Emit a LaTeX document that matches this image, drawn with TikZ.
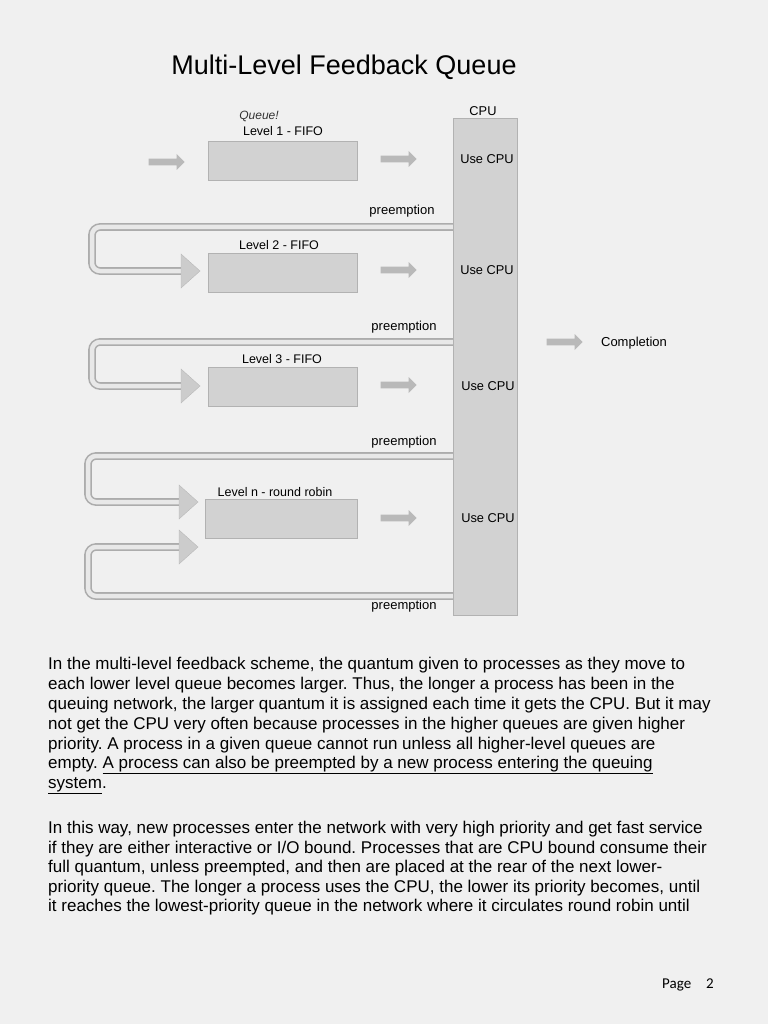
\documentclass[tikz,border=0pt]{standalone}
\usepackage{fontspec}
\setmainfont{Liberation Sans}
\newfontfamily\pagefont{Carlito}
\usetikzlibrary{shapes.arrows}
\begin{document}
\frenchspacing
\begin{tikzpicture}[x=1pt,y=-1pt,
  qbox/.style={draw=gray!60,fill=gray!35,minimum width=149pt,minimum height=39pt,inner sep=0pt},
  lab/.style={font=\fontsize{12.5}{14}\selectfont},
  ulab/.style={font=\fontsize{12.8}{14}\selectfont},
  small/.style={draw=none,fill=gray!55,single arrow,minimum height=36pt,minimum width=16pt,single arrow head extend=3pt,inner sep=2pt},
  pipe/.style={draw=gray!65,double=gray!18,double distance=4.5pt,line width=1.6pt,rounded corners=8pt},
  head/.style={fill=gray!40,draw=gray!55},
  body/.style={anchor=west,font=\fontsize{17}{20}\selectfont,inner sep=0pt}]
\useasboundingbox (0,0) rectangle (768,1024);
\fill[gray!12] (0,0) rectangle (768,1024);
\node[font=\fontsize{27}{31}\selectfont] (title) at (344,67) {Multi-Level Feedback Queue};
% CPU column
\node[draw=gray!60,fill=gray!35,minimum width=64pt,minimum height=497pt,inner sep=0pt] (cpu) at (485,366.5) {};
\node[ulab] (cpul) at (483,111) {CPU};
% queues
\node[qbox] (q1) at (282.5,160.5) {};
\node[qbox] (q2) at (282.5,272.5) {};
\node[qbox] (q3) at (282.5,386.5) {};
\node[qbox,minimum width=152pt] (qn) at (281,519) {};
\node[lab] (l1) at (283,131) {Level 1 - FIFO};
\node[lab] (l2) at (279,245) {Level 2 - FIFO};
\node[lab] (l3) at (282,359) {Level 3 - FIFO};
\node[lab] (ln) at (275,492) {Level n - round robin};
\node[font=\itshape\fontsize{12}{13}\selectfont,gray!40!black] (hw) at (259,116) {Queue!};
% small arrows
\node[small] (a0) at (165,162) {};
\node[small] (a1) at (397,159) {};
\node[small] (a2) at (397,270) {};
\node[small] (a3) at (397,385) {};
\node[small] (a4) at (397,518) {};
\node[small] (ac) at (563,342) {};
\node[ulab] (u1) at (487,159) {Use CPU};
\node[ulab] (u2) at (487,270) {Use CPU};
\node[ulab] (u3) at (488,386) {Use CPU};
\node[ulab] (u4) at (488,518) {Use CPU};
\node[ulab,font=\fontsize{13}{14}\selectfont] (comp) at (634,343) {Completion};
\node[lab,font=\fontsize{13}{14}\selectfont] (p1) at (402,211) {preemption};
\node[lab,font=\fontsize{13}{14}\selectfont] (p2) at (404,327) {preemption};
\node[lab,font=\fontsize{13}{14}\selectfont] (p3) at (404,442) {preemption};
\node[lab,font=\fontsize{13}{14}\selectfont] (p4) at (404,606) {preemption};
% feedback pipes
\coordinate (e1) at (181,271);
\coordinate (e2) at (181,386);
\coordinate (e3) at (179,502);
\coordinate (e4) at (179,547);
\draw[pipe] (cpu.west |- 0,227) -| (92,271) -- (e1);
\draw[pipe] (cpu.west |- 0,342) -| (92,386) -- (e2);
\draw[pipe] (cpu.west |- 0,456) -| (88,502) -- (e3);
\draw[pipe] (cpu.west |- 0,596) -| (88,547) -- (e4);
\foreach \e in {e1,e2,e3,e4}{
  \fill[head] ([yshift=-17pt]\e) -- ([xshift=19pt]\e) -- ([yshift=17pt]\e) -- cycle;}
% body text
\node[body] (t1) at (48,665) {In the multi-level feedback scheme, the quantum given to processes as they move to};
\node[body] (t2) at (48,685) {each lower level queue becomes larger. Thus, the longer a process has been in the};
\node[body] (t3) at (48,705) {queuing network, the larger quantum it is assigned each time it gets the CPU. But it may};
\node[body] (t4) at (48,725) {not get the CPU very often because processes in the higher queues are given higher};
\node[body] (t5) at (48,745) {priority. A process in a given queue cannot run unless all higher-level queues are};
\node[body] (t6) at (48,765) {empty. \underline{A process can also be preempted by a new process entering the queuing}};
\node[body] (t7) at (48,786) {\underline{system}.};
\node[body] (t8) at (48,829) {In this way, new processes enter the network with very high priority and get fast service};
\node[body] (t9) at (48,849) {if they are either interactive or I/O bound. Processes that are CPU bound consume their};
\node[body] (t10) at (48,868) {full quantum, unless preempted, and then are placed at the rear of the next lower-};
\node[body] (t11) at (48,888) {priority queue. The longer a process uses the CPU, the lower its priority becomes, until};
\node[body] (t12) at (48,907) {it reaches the lowest-priority queue in the network where it circulates round robin until};
\node[font=\pagefont\fontsize{15}{18}\selectfont] (pg) at (688,985) {Page\quad 2};
\end{tikzpicture}
\end{document}
